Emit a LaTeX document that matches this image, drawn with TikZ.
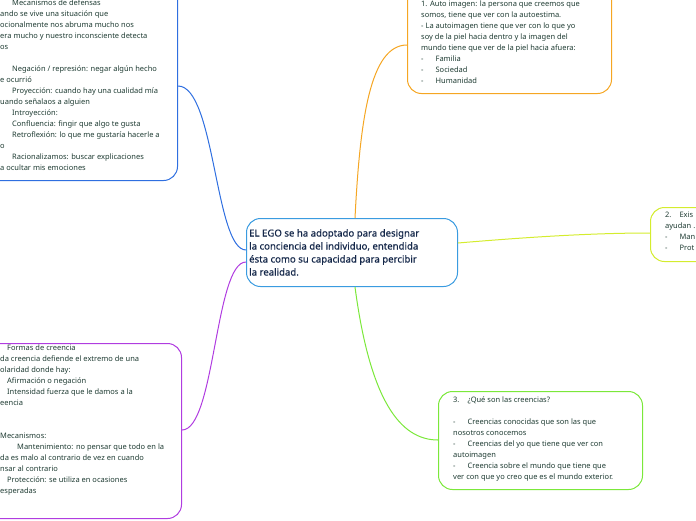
\documentclass[tikz,border=0pt]{standalone}
\usepackage{fontspec}
\setmainfont{Noto Sans}
\newfontfamily\semibf[FakeBold=0.5]{Noto Sans}
\begin{document}
\begin{tikzpicture}[x=1pt,y=-1pt,
  box/.style={draw,line width=1pt,rounded corners=14pt,anchor=north west,inner sep=0},
  txt/.style={anchor=north west,inner sep=0,align=left,text=tcol,font=\fontsize{7.5}{11}\selectfont},
  conn/.style={line width=1pt}]
\definecolor{tcol}{HTML}{1E3B32}
\definecolor{cblue}{HTML}{2F6FE0}
\definecolor{corange}{HTML}{F5A623}
\definecolor{cyell}{HTML}{D4EC2E}
\definecolor{cgreen}{HTML}{7BE83A}
\definecolor{cpurp}{HTML}{B03CE0}
\definecolor{ccent}{HTML}{3A9BE0}
\definecolor{ctext}{HTML}{15284A}
\useasboundingbox (0,0) rectangle (696,520);
% boxes
\node[box,draw=ccent,minimum width=211pt,minimum height=68pt] (c) at (246,218) {};
\node[box,draw=cblue,minimum width=197pt,minimum height=200pt] (tl) at (-20,-20) {};
\node[box,draw=cpurp,minimum width=201pt,minimum height=175pt] (bl) at (-20,343) {};
\node[box,draw=corange,minimum width=204pt,minimum height=113pt] (tr) at (407,-20) {};
\node[box,draw=cyell,minimum width=80pt,minimum height=54pt] (r) at (650,207) {};
\node[box,draw=cgreen,minimum width=204pt,minimum height=98pt] (br) at (438,391) {};
% texts
\node[anchor=north west,inner sep=0,align=left,text=ctext,font=\semibf\fontsize{9.6}{13}\selectfont] (ct) at (249,229) {EL EGO se ha adoptado para designar\\la conciencia del individuo, entendida\\ésta como su capacidad para percibir\\la realidad.};
\node[txt] (tlt) at (0,0) {\hspace{12pt}Mecanismos de defensas\\ando se vive una situación que\\ocionalmente nos abruma mucho nos\\era mucho y nuestro inconsciente detecta\\os\\[11pt]\hspace{12pt}Negación / represión: negar algún hecho\\e ocurrió\\\hspace{12pt}Proyección: cuando hay una cualidad mía\\uando señalaos a alguien\\\hspace{12pt}Introyección:\\\hspace{12pt}Confluencia: fingir que algo te gusta\\\hspace{12pt}Retroflexión: lo que me gustaría hacerle a\\o\\\hspace{12pt}Racionalizamos: buscar explicaciones\\a ocultar mis emociones};
\node[txt] (blt) at (0,345) {\hspace{7pt}Formas de creencia\\da creencia defiende el extremo de una\\olaridad donde hay:\\\hspace{7pt}Afirmación o negación\\\hspace{7pt}Intensidad fuerza que le damos a la\\eencia\\[22pt]Mecanismos:\\\hspace{17pt}Mantenimiento: no pensar que todo en la\\da es malo al contrario de vez en cuando\\nsar al contrario\\\hspace{7pt}Protección: se utiliza en ocasiones\\esperadas};
\node[txt] (trt) at (421,1) {1. Auto imagen: la persona que creemos que\\somos, tiene que ver con la autoestima.\\- La autoimagen tiene que ver con lo que yo\\soy de la piel hacia dentro y la imagen del\\mundo tiene que ver de la piel hacia afuera:\\-\hspace{12pt}Familia\\-\hspace{12pt}Sociedad\\-\hspace{12pt}Humanidad};
\node[txt] (rt) at (665,212) {2.\hspace{8pt}Exis\\ayudan .\\-\hspace{12pt}Man\\-\hspace{12pt}Prot};
\node[txt] (brt) at (453,397) {3.\hspace{8pt}¿Qué son las creencias?\\[11pt]-\hspace{12pt}Creencias conocidas que son las que\\nosotros conocemos\\-\hspace{12pt}Creencias del yo que tiene que ver con\\autoimagen\\-\hspace{12pt}Creencia sobre el mundo que tiene que\\ver con que yo creo que es el mundo exterior.};
% connectors
\draw[conn,cblue] (c.west |- 0,250) .. controls (215,250) and (215,86) .. (tl.east |- 0,86);
\draw[conn,cpurp] (c.west |- 0,262) .. controls (215,262) and (215,430) .. (bl.east |- 0,430);
\draw[conn,corange] (c.north -| 355,0) .. controls (360,120) and (370,45) .. (tr.west |- 0,45);
\draw[conn,cgreen] (c.south -| 355,0) .. controls (370,400) and (400,440) .. (br.west |- 0,440);
\draw[conn,cyell] (c.east |- 0,243) .. controls (540,236) and (600,233) .. (r.west |- 0,233);
\end{tikzpicture}
\end{document}
